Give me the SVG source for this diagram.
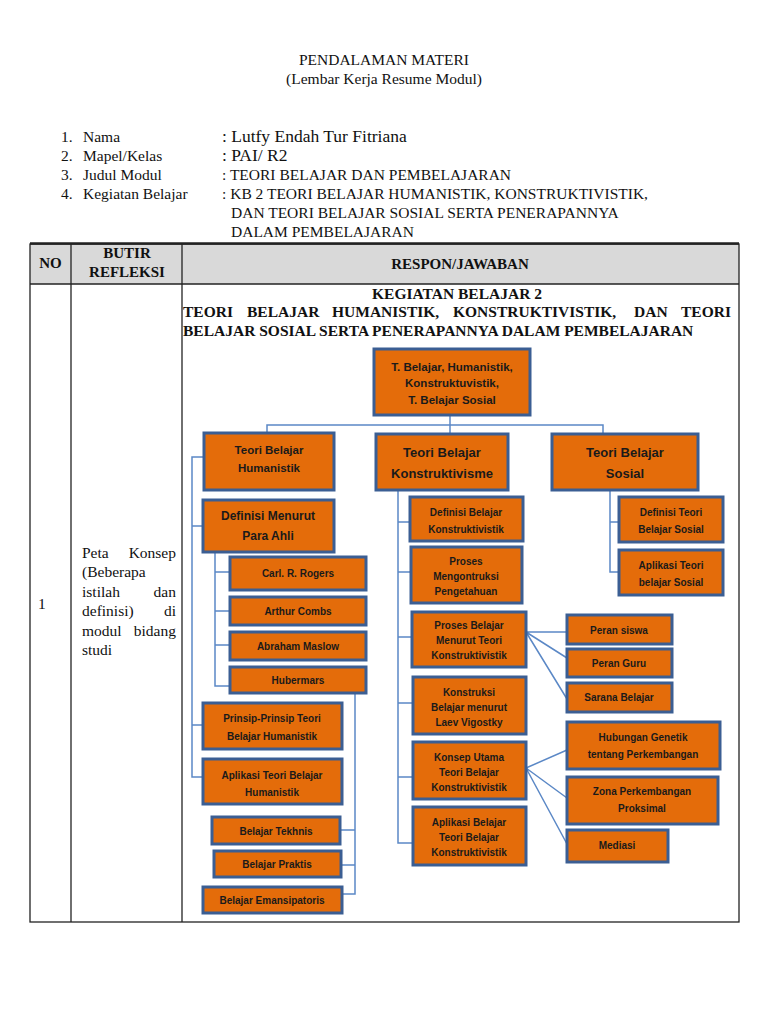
<svg xmlns="http://www.w3.org/2000/svg" width="768" height="1024" viewBox="0 0 768 1024">
<style>
.s{font-family:"Liberation Serif","Times New Roman",serif;font-size:15.5px;fill:#111}
.b{font-weight:bold}
.h{font-size:15px}
.big{font-size:17.5px}
.m{text-anchor:middle}
.e{text-anchor:end}
.n rect{fill:#E46C0A;stroke:#3B5E93;stroke-width:3}
.n text{font-family:"Liberation Sans",Arial,sans-serif;font-weight:bold;font-size:10px;fill:#1a1a1a;text-anchor:middle}
.n .l{font-size:11.5px}
.n .xl{font-size:13px}
.n .ml{font-size:12px}
.c path{fill:none;stroke:#5B88C6;stroke-width:1.5}
.tb{fill:none;stroke:#222;stroke-width:1.3}
</style>
<rect width="768" height="1024" fill="#fff"/>
<g id="header-text">
<text class="s m" x="384" y="65">PENDALAMAN MATERI</text>
<text class="s m" x="384" y="84">(Lembar Kerja Resume Modul)</text>
<text class="s" x="61" y="142">1.</text><text class="s" x="83" y="142">Nama</text>
<text class="s" x="61" y="161">2.</text><text class="s" x="83" y="161">Mapel/Kelas</text>
<text class="s" x="61" y="180">3.</text><text class="s" x="83" y="180">Judul Modul</text>
<text class="s" x="61" y="199">4.</text><text class="s" x="83" y="199">Kegiatan Belajar</text>
<text class="s big" x="222" y="142">: Lutfy Endah Tur Fitriana</text>
<text class="s big" x="222" y="161">: PAI/ R2</text>
<text class="s" x="222" y="180">: TEORI BELAJAR DAN PEMBELAJARAN</text>
<text class="s" x="222" y="199">: KB 2 TEORI BELAJAR HUMANISTIK, KONSTRUKTIVISTIK,</text>
<text class="s" x="231" y="218">DAN TEORI BELAJAR SOSIAL SERTA PENERAPANNYA</text>
<text class="s" x="231" y="237">DALAM PEMBELAJARAN</text>
</g>
<g id="table">
<rect x="30" y="244" width="709" height="40" fill="#D9D9D9"/>
<rect class="tb" x="30" y="244" width="709" height="678"/>
<line x1="30" y1="243.5" x2="739" y2="243.5" stroke="#222" stroke-width="2.5"/>
<line class="tb" x1="30" y1="284" x2="739" y2="284"/>
<line class="tb" x1="71" y1="244" x2="71" y2="922"/>
<line class="tb" x1="182" y1="244" x2="182" y2="922"/>
<text class="s b h m" x="50.5" y="268">NO</text>
<text class="s b h m" x="127" y="258">BUTIR</text>
<text class="s b h m" x="127" y="277">REFLEKSI</text>
<text class="s b h m" x="460" y="269">RESPON/JAWABAN</text>
<text class="s b m" x="457" y="299">KEGIATAN BELAJAR 2</text>
<text class="s b" y="317"><tspan x="183">TEORI</tspan><tspan x="247">BELAJAR</tspan><tspan x="332">HUMANISTIK,</tspan><tspan x="453">KONSTRUKTIVISTIK,</tspan><tspan x="634">DAN</tspan><tspan x="681">TEORI</tspan></text>
<text class="s b" x="183" y="336">BELAJAR SOSIAL SERTA PENERAPANNYA DALAM PEMBELAJARAN</text>
<text class="s" x="38" y="609">1</text>
<text class="s" x="82" y="558">Peta</text><text class="s e" x="176" y="558">Konsep</text>
<text class="s" x="82" y="577">(Beberapa</text>
<text class="s" x="82" y="597">istilah</text><text class="s e" x="176" y="597">dan</text>
<text class="s" x="82" y="616">definisi)</text><text class="s e" x="176" y="616">di</text>
<text class="s" x="82" y="636">modul</text><text class="s e" x="176" y="636">bidang</text>
<text class="s" x="82" y="655">studi</text>
</g>
<g id="connectors" class="c">
<path d="M450 415V434"/>
<path d="M267 433V425H603V434"/>
<path d="M204 457H192V777H203M192 526H203M192 725H203"/>
<path d="M215 552V686H230M215 572H230M215 611H230M215 645H230"/>
<path d="M342 894H355V693M340 830H355M341 865H355"/>
<path d="M398 490V843H413M398 522H410M398 572H411M398 637H412M398 703H413M398 777H413"/>
<path d="M610 490V572H619M610 522H619"/>
<path d="M526 632H567M526 632L567 658M526 632L567 699"/>
<path d="M526 768L567 750M526 768L567 798M526 768L567 844"/>
</g>
<g id="root" class="n"><rect x="374" y="349" width="156" height="66"/><text class="l" x="452" y="371">T. Belajar, Humanistik,</text><text class="l" x="452" y="387">Konstruktuvistik,</text><text class="l" x="452" y="404">T. Belajar Sosial</text></g>
<g id="humanistik" class="n"><rect x="204" y="433" width="130" height="57"/><text class="l" x="269" y="454">Teori Belajar</text><text class="l" x="269" y="472">Humanistik</text></g>
<g id="konstruktivisme" class="n"><rect x="376" y="434" width="132" height="56"/><text class="xl" x="442" y="457">Teori Belajar</text><text class="xl" x="442" y="478">Konstruktivisme</text></g>
<g id="sosial" class="n"><rect x="552" y="434" width="146" height="56"/><text class="xl" x="625" y="457">Teori Belajar</text><text class="xl" x="625" y="478">Sosial</text></g>
<g id="definisi-ahli" class="n"><rect x="203" y="500" width="131" height="52"/><text class="ml" x="268" y="520">Definisi Menurut</text><text class="ml" x="268" y="540">Para Ahli</text></g>
<g id="rogers" class="n"><rect x="230" y="557" width="136" height="33"/><text x="298" y="577">Carl. R. Rogers</text></g>
<g id="combs" class="n"><rect x="230" y="597" width="136" height="28"/><text x="298" y="615">Arthur Combs</text></g>
<g id="maslow" class="n"><rect x="230" y="632" width="136" height="28"/><text x="298" y="650">Abraham Maslow</text></g>
<g id="hubermars" class="n"><rect x="230" y="667" width="136" height="26"/><text x="298" y="684">Hubermars</text></g>
<g id="prinsip" class="n"><rect x="203" y="703" width="139" height="46"/><text x="272" y="722">Prinsip-Prinsip Teori</text><text x="272" y="740">Belajar Humanistik</text></g>
<g id="aplikasi-hum" class="n"><rect x="203" y="759" width="139" height="45"/><text x="272" y="779">Aplikasi Teori Belajar</text><text x="272" y="796">Humanistik</text></g>
<g id="tekhnis" class="n"><rect x="212" y="817" width="128" height="27"/><text x="276" y="835">Belajar Tekhnis</text></g>
<g id="praktis" class="n"><rect x="214" y="851" width="127" height="26"/><text x="277" y="868">Belajar Praktis</text></g>
<g id="emansipatoris" class="n"><rect x="203" y="887" width="139" height="26"/><text x="272" y="904">Belajar Emansipatoris</text></g>
<g id="definisi-kon" class="n"><rect x="410" y="497" width="113" height="44"/><text x="466" y="516">Definisi Belajar</text><text x="466" y="533">Konstruktivistik</text></g>
<g id="proses-kon" class="n"><rect x="411" y="547" width="111" height="56"/><text x="466" y="565">Proses</text><text x="466" y="580">Mengontruksi</text><text x="466" y="595">Pengetahuan</text></g>
<g id="proses-belajar" class="n"><rect x="412" y="612" width="114" height="55"/><text x="469" y="629">Proses Belajar</text><text x="469" y="644">Menurut Teori</text><text x="469" y="659">Konstruktivistik</text></g>
<g id="konstruksi" class="n"><rect x="413" y="677" width="113" height="57"/><text x="469" y="696">Konstruksi</text><text x="469" y="711">Belajar menurut</text><text x="469" y="726">Laev Vigostky</text></g>
<g id="konsep-utama" class="n"><rect x="413" y="742" width="113" height="57"/><text x="469" y="761">Konsep Utama</text><text x="469" y="776">Teori Belajar</text><text x="469" y="791">Konstruktivistik</text></g>
<g id="aplikasi-kon" class="n"><rect x="413" y="807" width="113" height="58"/><text x="469" y="826">Aplikasi Belajar</text><text x="469" y="841">Teori Belajar</text><text x="469" y="856">Konstruktivistik</text></g>
<g id="peran-siswa" class="n"><rect x="567" y="615" width="105" height="29"/><text x="619" y="634">Peran siswa</text></g>
<g id="peran-guru" class="n"><rect x="567" y="649" width="105" height="28"/><text x="619" y="667">Peran Guru</text></g>
<g id="sarana" class="n"><rect x="567" y="683" width="105" height="29"/><text x="619" y="701">Sarana Belajar</text></g>
<g id="hubungan" class="n"><rect x="567" y="722" width="153" height="47"/><text x="643" y="741">Hubungan Genetik</text><text x="643" y="758">tentang Perkembangan</text></g>
<g id="zona" class="n"><rect x="567" y="777" width="151" height="47"/><text x="642" y="795">Zona Perkembangan</text><text x="642" y="812">Proksimal</text></g>
<g id="mediasi" class="n"><rect x="567" y="830" width="101" height="32"/><text x="617" y="849">Mediasi</text></g>
<g id="definisi-sos" class="n"><rect x="619" y="497" width="104" height="45"/><text x="671" y="516">Definisi Teori</text><text x="671" y="533">Belajar Sosial</text></g>
<g id="aplikasi-sos" class="n"><rect x="619" y="550" width="104" height="45"/><text x="671" y="569">Aplikasi Teori</text><text x="671" y="586">belajar Sosial</text></g>
</svg>
